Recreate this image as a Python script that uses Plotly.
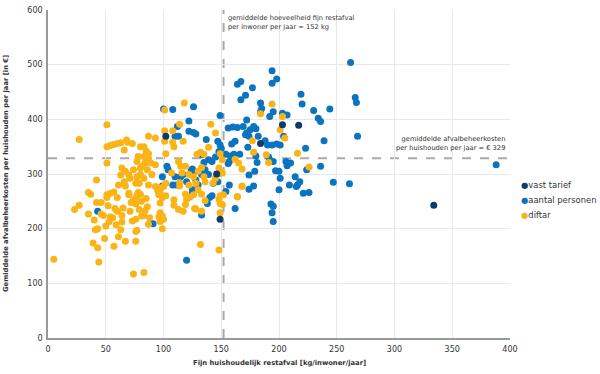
import plotly.graph_objects as go

# ---- data ----
diftar_x = [5, 23, 27, 35, 37, 35, 39, 40, 41, 43, 43, 44, 42, 46, 46, 48, 49, 50, 52, 51,
            54, 56, 57, 58, 60, 59, 61, 60, 57, 67, 70, 64, 64, 67, 71, 72, 74, 76, 77, 76,
            73, 76, 74, 76, 78, 80, 77, 81, 83, 83, 81, 85, 86, 84, 87, 96, 97, 97, 99, 99,
            100, 99, 102, 97, 109, 109, 113, 117, 114, 114, 119, 120, 123, 127, 132, 133, 133, 136, 143, 148,
            149, 149, 148, 149, 164, 168, 65, 88, 96, 97, 76, 79, 119, 128, 151, 53, 63,
            51, 64, 67, 63, 70, 74, 71, 66, 61, 77, 80, 42, 51, 54, 70,
            78, 83, 77, 84, 89, 93, 86, 90, 80, 83, 76, 79, 87, 93, 95, 100, 102, 107, 113, 115,
            119, 116, 122, 126, 130, 133, 135, 136, 128, 122, 130, 126, 145, 151, 148, 152, 96, 81,
            27, 51, 51, 54, 57, 60, 63, 68, 69, 66, 80, 73, 87, 93, 101, 108, 114, 118, 101, 141,
            101, 108, 109, 139, 132, 129, 135, 151, 102, 117, 145, 149, 87, 87, 83, 85,
            184, 194, 203, 205, 201, 177, 178, 189, 216, 162, 165, 168, 191, 226, 168, 164]
diftar_y = [144, 235, 243, 266, 263, 227, 174, 216, 198, 200, 165, 139, 248, 248, 227, 224, 182, 205, 242, 257,
            222, 220, 168, 237, 232, 207, 185, 257, 267, 278, 265, 224, 212, 177, 232, 248, 252, 256, 260, 245,
            214, 217, 117, 177, 266, 263, 197, 223, 224, 120, 250, 255, 240, 233, 208, 275, 266, 229, 223, 200,
            217, 257, 260, 247, 253, 243, 235, 232, 284, 278, 263, 254, 258, 237, 171, 263, 232, 251, 284, 254,
            260, 229, 161, 246, 259, 278, 238, 220, 222, 213, 195, 235, 244, 236, 244, 213, 198,
            320, 311, 305, 298, 298, 308, 292, 286, 280, 295, 311, 289, 262, 265, 262,
            332, 332, 323, 320, 320, 317, 308, 299, 299, 292, 283, 283, 280, 277, 270, 277, 283, 302, 323, 314,
            314, 302, 299, 295, 305, 312, 295, 286, 283, 280, 271, 262, 292, 302, 311, 262, 262, 314,
            363, 390, 350, 352, 354, 356, 357, 362, 358, 344, 350, 356, 369, 366, 379, 379, 391, 430, 417, 391,
            360, 358, 350, 349, 340, 336, 336, 326, 337, 360, 375, 337, 337, 329, 350, 342,
            410, 428, 405, 366, 381, 361, 340, 335, 338, 327, 320, 309, 321, 313, 277, 258]

aantal_x = [43, 91, 99, 108, 111, 120, 125, 130, 133, 138, 140, 142, 147, 157, 162, 174, 178, 193, 195, 194,
            195, 200, 209, 216, 103, 104, 99, 110, 115, 117, 124, 126, 120, 128, 133, 139, 143, 149, 136, 125,
            154, 100, 108, 126, 122, 149, 112, 122, 126, 128, 110, 113, 137, 147, 149, 150, 148, 154, 158, 139,
            142, 156, 160, 164, 159, 133, 135, 125, 145, 194, 198, 194, 164, 167, 177, 171, 167, 184, 185, 219,
            220, 195, 192, 184, 203, 207, 230, 234, 236, 172, 169, 178, 180, 175, 172, 174, 171, 162, 173, 182,
            188, 190, 194, 198, 201, 204, 223, 239, 161, 166, 157, 156, 180, 181, 191, 195, 206, 207, 210, 197,
            200, 174, 179, 201, 214, 224, 236, 215, 218, 221, 226, 262, 266, 267, 244, 268, 388, 247, 261]
aantal_y = [232, 209, 278, 280, 280, 142, 271, 280, 225, 246, 257, 260, 286, 280, 237, 272, 278, 245, 241, 229,
            213, 271, 280, 280, 314, 308, 295, 295, 295, 299, 306, 303, 286, 289, 299, 299, 283, 302, 308, 265,
            268, 419, 418, 423, 397, 407, 387, 378, 376, 373, 369, 369, 363, 360, 353, 347, 341, 336, 333, 326,
            323, 384, 386, 385, 355, 335, 321, 309, 331, 489, 474, 466, 464, 469, 458, 444, 436, 430, 420, 446,
            428, 414, 405, 414, 411, 408, 416, 402, 396, 399, 387, 387, 383, 381, 375, 369, 372, 360, 349, 369,
            361, 353, 353, 355, 353, 369, 347, 361, 336, 336, 323, 319, 333, 321, 331, 323, 323, 315, 320, 306,
            305, 298, 305, 292, 295, 308, 314, 277, 286, 265, 266, 504, 440, 431, 419, 369, 317, 285, 282]

vast_x = [102, 146, 149, 184, 203, 217, 334]
vast_y = [369, 300, 217, 356, 390, 389, 243]

avg_restafval = 152
avg_kosten = 329

x_ticks = [0, 50, 100, 150, 200, 250, 300, 350, 400]
y_ticks = [0, 100, 200, 300, 400, 500, 600]

series_names = ["vast tarief", "aantal personen", "diftar"]

C_NAVY = "#0d3b6b"
C_BLUE = "#0b74c1"
C_YELLOW = "#fbb417"
FONT = "DejaVu Sans"
TXT = "#333333"

fig = go.Figure()
fig.add_trace(go.Scatter(x=aantal_x, y=aantal_y, mode="markers", name=series_names[1], showlegend=False,
                         marker=dict(color=C_BLUE, size=7, line=dict(width=0))))
fig.add_trace(go.Scatter(x=diftar_x, y=diftar_y, mode="markers", name=series_names[2], showlegend=False,
                         marker=dict(color=C_YELLOW, size=7, line=dict(width=0))))
fig.add_trace(go.Scatter(x=vast_x, y=vast_y, mode="markers", name=series_names[0], showlegend=False,
                         marker=dict(color=C_NAVY, size=7, line=dict(width=0))))

# legend-only entries (symbol drawn as text glyph so it sits right next to the label)
for nm, col, lg in [(series_names[0], C_NAVY, "legend"),
                    (series_names[1], C_BLUE, "legend2"),
                    (series_names[2], C_YELLOW, "legend3")]:
    fig.add_trace(go.Scatter(x=[None], y=[None], mode="markers", legend=lg, showlegend=True,
                             name='<span style="color:%s">●</span>%s' % (col, nm),
                             marker=dict(color="rgba(0,0,0,0)", size=1)))

fig.add_shape(type="line", x0=avg_restafval, x1=avg_restafval, y0=0, y1=600, xref="x", yref="y",
              line=dict(color="#aaaaaa", width=2, dash="dash"), layer="below")
fig.add_shape(type="line", x0=0, x1=400, y0=avg_kosten, y1=avg_kosten, xref="x", yref="y",
              line=dict(color="#aaaaaa", width=2, dash="dash"), layer="below")

fig.add_annotation(x=avg_restafval, y=1, xref="x", yref="paper", xanchor="left", yanchor="top",
                   xshift=2, yshift=-2, align="left", showarrow=False,
                   text="gemiddelde hoeveelheid fijn restafval<br>per inwoner per jaar = %d kg" % avg_restafval,
                   font=dict(family=FONT, size=6.7, color=TXT))
fig.add_annotation(x=400, y=avg_kosten, xref="x", yref="y", xanchor="right", yanchor="bottom",
                   xshift=-3, yshift=4, align="right", showarrow=False,
                   text="gemiddelde afvalbeheerkosten<br>per huishouden per jaar = € %d" % avg_kosten,
                   font=dict(family=FONT, size=6.7, color=TXT))

fig.add_annotation(x=0.5, y=0, xref="paper", yref="paper", yanchor="top", yshift=-19, showarrow=False,
                   text="<b>Fijn huishoudelijk restafval [kg/inwoner/jaar]</b>",
                   font=dict(family=FONT, size=6.8, color=TXT))
fig.add_annotation(x=0, y=0.5, xref="paper", yref="paper", xanchor="right", xshift=-36, showarrow=False,
                   textangle=-90,
                   text="<b>Gemiddelde afvalbeheerkosten per huishouden per jaar [in €]</b>",
                   font=dict(family=FONT, size=6.8, color=TXT))

fig.update_xaxes(range=[0, 400], tickvals=x_ticks, showgrid=True, gridcolor="#e8e8e8", gridwidth=1,
                 zeroline=False, showline=True, linecolor="#999999", linewidth=1.5,
                 tickfont=dict(family=FONT, size=8, color=TXT), ticks="", ticklabelstandoff=3)
fig.update_yaxes(range=[0, 600], tickvals=y_ticks, showgrid=True, gridcolor="#e8e8e8", gridwidth=1,
                 zeroline=False, showline=True, linecolor="#999999", linewidth=1.5,
                 tickfont=dict(family=FONT, size=8, color=TXT), ticks="", ticklabelstandoff=2)

leg_common = dict(x=(521 - 40 - 48) / 462, xanchor="left", yanchor="middle",
                  font=dict(family=FONT, size=8.4, color=TXT), itemwidth=30,
                  bgcolor="rgba(0,0,0,0)", borderwidth=0)
fig.update_layout(
    width=600, height=374,
    margin=dict(l=48, r=90, t=10, b=36, autoexpand=False),
    plot_bgcolor="white", paper_bgcolor="white",
    font=dict(family=FONT, size=8, color=TXT),
    legend=dict(y=(338 - 185) / 328, **leg_common),
    legend2=dict(y=(338 - 200) / 328, **leg_common),
    legend3=dict(y=(338 - 215) / 328, **leg_common),
    showlegend=True,
)

fig.write_html("out.html", config={"displayModeBar": False},
               post_script="document.body.style.margin='0';")
